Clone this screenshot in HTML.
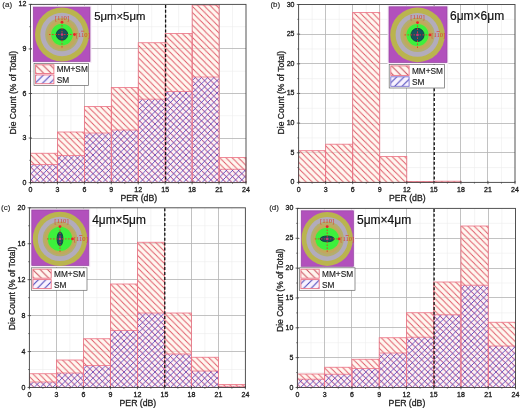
<!DOCTYPE html><html><head><meta charset="utf-8"><title>PER histograms</title><style>html,body{margin:0;padding:0;background:#fff;overflow:hidden}svg{display:block;filter:blur(0.3px)}</style></head><body>
<svg width="520" height="408" viewBox="0 0 520 408">
<defs>
<pattern id="hr" patternUnits="userSpaceOnUse" width="6.2" height="6.2"><path d="M-1,-1 L7.2,7.2 M-7.2,-1 L1,7.2 M5.2,-1 L13.4,7.2" stroke="#de5262" stroke-width="0.9" fill="none"/></pattern>
<pattern id="hb" patternUnits="userSpaceOnUse" width="6.2" height="6.2"><path d="M-1,7.2 L7.2,-1 M-7.2,7.2 L1,-1 M5.2,7.2 L13.4,-1" stroke="#5248c0" stroke-width="0.88" fill="none"/></pattern>
<pattern id="lr" patternUnits="userSpaceOnUse" width="7.4" height="7.4"><path d="M-1,-1 L8.4,8.4 M-8.4,-1 L1,8.4 M6.4,-1 L15.8,8.4" stroke="#c8505e" stroke-width="1.05" fill="none"/></pattern>
<pattern id="lb" patternUnits="userSpaceOnUse" width="7.4" height="7.4"><path d="M-1,8.4 L8.4,-1 M-8.4,8.4 L1,-1 M6.4,8.4 L15.8,-1" stroke="#4a44b8" stroke-width="1.05" fill="none"/></pattern>
<pattern id="hp" patternUnits="userSpaceOnUse" width="6.2" height="6.2"><path d="M-1,-1 L7.2,7.2 M-7.2,-1 L1,7.2 M5.2,-1 L13.4,7.2" stroke="#9a4c9c" stroke-width="0.88" fill="none"/></pattern>
</defs>
<rect width="520" height="408" fill="#fff"/>
<g>
<path d="M43.97,4.4V182.6M70.91,4.4V182.6M97.84,4.4V182.6M124.78,4.4V182.6M151.72,4.4V182.6M178.66,4.4V182.6M205.59,4.4V182.6M232.53,4.4V182.6M30.5,160.32H246M30.5,115.77H246M30.5,71.22H246M30.5,26.68H246" stroke="#ececec" stroke-width="0.6" fill="none"/>
<path d="M57.5,4.4V182.6M84.5,4.4V182.6M111.5,4.4V182.6M138.5,4.4V182.6M165.5,4.4V182.6M192.5,4.4V182.6M219.5,4.4V182.6M30.5,138.5H246M30.5,93.5H246M30.5,48.5H246" stroke="#b2b2b2" stroke-width="0.8" fill="none"/>
<rect x="30.5" y="153.25" width="26.94" height="29.35" fill="#fff0e4" fill-opacity="0.55"/>
<rect x="30.5" y="153.25" width="26.94" height="29.35" fill="url(#hr)"/>
<rect x="57.44" y="132" width="26.94" height="50.6" fill="#fff0e4" fill-opacity="0.55"/>
<rect x="57.44" y="132" width="26.94" height="50.6" fill="url(#hr)"/>
<rect x="84.38" y="106.5" width="26.94" height="76.1" fill="#fff0e4" fill-opacity="0.55"/>
<rect x="84.38" y="106.5" width="26.94" height="76.1" fill="url(#hr)"/>
<rect x="111.31" y="87.5" width="26.94" height="95.1" fill="#fff0e4" fill-opacity="0.55"/>
<rect x="111.31" y="87.5" width="26.94" height="95.1" fill="url(#hr)"/>
<rect x="138.25" y="42.75" width="26.94" height="139.85" fill="#fff0e4" fill-opacity="0.55"/>
<rect x="138.25" y="42.75" width="26.94" height="139.85" fill="url(#hr)"/>
<rect x="165.19" y="33.5" width="26.94" height="149.1" fill="#fff0e4" fill-opacity="0.55"/>
<rect x="165.19" y="33.5" width="26.94" height="149.1" fill="url(#hr)"/>
<rect x="192.12" y="5" width="26.94" height="177.6" fill="#fff0e4" fill-opacity="0.55"/>
<rect x="192.12" y="5" width="26.94" height="177.6" fill="url(#hr)"/>
<rect x="219.06" y="157.5" width="26.94" height="25.1" fill="#fff0e4" fill-opacity="0.55"/>
<rect x="219.06" y="157.5" width="26.94" height="25.1" fill="url(#hr)"/>
<rect x="30.5" y="164.5" width="26.94" height="18.1" fill="#fbeefa" fill-opacity="0.5"/>
<rect x="30.5" y="164.5" width="26.94" height="18.1" fill="url(#hp)"/>
<rect x="30.5" y="164.5" width="26.94" height="18.1" fill="url(#hb)"/>
<rect x="57.44" y="155.5" width="26.94" height="27.1" fill="#fbeefa" fill-opacity="0.5"/>
<rect x="57.44" y="155.5" width="26.94" height="27.1" fill="url(#hp)"/>
<rect x="57.44" y="155.5" width="26.94" height="27.1" fill="url(#hb)"/>
<rect x="84.38" y="133" width="26.94" height="49.6" fill="#fbeefa" fill-opacity="0.5"/>
<rect x="84.38" y="133" width="26.94" height="49.6" fill="url(#hp)"/>
<rect x="84.38" y="133" width="26.94" height="49.6" fill="url(#hb)"/>
<rect x="111.31" y="130" width="26.94" height="52.6" fill="#fbeefa" fill-opacity="0.5"/>
<rect x="111.31" y="130" width="26.94" height="52.6" fill="url(#hp)"/>
<rect x="111.31" y="130" width="26.94" height="52.6" fill="url(#hb)"/>
<rect x="138.25" y="99.2" width="26.94" height="83.4" fill="#fbeefa" fill-opacity="0.5"/>
<rect x="138.25" y="99.2" width="26.94" height="83.4" fill="url(#hp)"/>
<rect x="138.25" y="99.2" width="26.94" height="83.4" fill="url(#hb)"/>
<rect x="165.19" y="91.5" width="26.94" height="91.1" fill="#fbeefa" fill-opacity="0.5"/>
<rect x="165.19" y="91.5" width="26.94" height="91.1" fill="url(#hp)"/>
<rect x="165.19" y="91.5" width="26.94" height="91.1" fill="url(#hb)"/>
<rect x="192.12" y="77" width="26.94" height="105.6" fill="#fbeefa" fill-opacity="0.5"/>
<rect x="192.12" y="77" width="26.94" height="105.6" fill="url(#hp)"/>
<rect x="192.12" y="77" width="26.94" height="105.6" fill="url(#hb)"/>
<rect x="219.06" y="169.3" width="26.94" height="13.3" fill="#fbeefa" fill-opacity="0.5"/>
<rect x="219.06" y="169.3" width="26.94" height="13.3" fill="url(#hp)"/>
<rect x="219.06" y="169.3" width="26.94" height="13.3" fill="url(#hb)"/>
<rect x="30.5" y="153.25" width="26.94" height="29.35" fill="none" stroke="#ec7284" stroke-width="0.8"/>
<rect x="57.44" y="132" width="26.94" height="50.6" fill="none" stroke="#ec7284" stroke-width="0.8"/>
<rect x="84.38" y="106.5" width="26.94" height="76.1" fill="none" stroke="#ec7284" stroke-width="0.8"/>
<rect x="111.31" y="87.5" width="26.94" height="95.1" fill="none" stroke="#ec7284" stroke-width="0.8"/>
<rect x="138.25" y="42.75" width="26.94" height="139.85" fill="none" stroke="#ec7284" stroke-width="0.8"/>
<rect x="165.19" y="33.5" width="26.94" height="149.1" fill="none" stroke="#ec7284" stroke-width="0.8"/>
<rect x="192.12" y="5" width="26.94" height="177.6" fill="none" stroke="#ec7284" stroke-width="0.8"/>
<rect x="219.06" y="157.5" width="26.94" height="25.1" fill="none" stroke="#ec7284" stroke-width="0.8"/>
<path d="M30.5,164.5H57.44" stroke="#ec7284" stroke-width="0.8"/>
<path d="M57.44,155.5H84.38" stroke="#ec7284" stroke-width="0.8"/>
<path d="M84.38,133H111.31" stroke="#ec7284" stroke-width="0.8"/>
<path d="M111.31,130H138.25" stroke="#ec7284" stroke-width="0.8"/>
<path d="M138.25,99.2H165.19" stroke="#ec7284" stroke-width="0.8"/>
<path d="M165.19,91.5H192.12" stroke="#ec7284" stroke-width="0.8"/>
<path d="M192.12,77H219.06" stroke="#ec7284" stroke-width="0.8"/>
<path d="M219.06,169.3H246" stroke="#ec7284" stroke-width="0.8"/>
<path d="M165.59,4.9V182.6" stroke="#111" stroke-width="1.3" stroke-dasharray="3,1.9"/>
<rect x="31.9" y="5.6" width="59.6" height="57.4" fill="#f8ecf8"/>
<rect x="33.4" y="7.1" width="56.6" height="54.4" fill="#b250bc" stroke="#9444a2" stroke-width="0.7"/>
<ellipse cx="62" cy="34.5" rx="27" ry="27" fill="#bab44e"/>
<ellipse cx="62" cy="34.5" rx="21.7" ry="21.7" fill="#b2acbc"/>
<ellipse cx="62" cy="34.5" rx="16.8" ry="16.8" fill="#b4ae6c"/>
<ellipse cx="62" cy="34.5" rx="14.8" ry="14.8" fill="#c4a65e"/>
<ellipse cx="62" cy="34.5" rx="12.5" ry="12.5" fill="#b4b454"/>
<ellipse cx="62" cy="34.5" rx="10.8" ry="10.8" fill="#3cf03c"/>
<ellipse cx="62" cy="34.5" rx="5.7" ry="5.7" fill="#17505e" stroke="#0c3a3a" stroke-width="0.8"/>
<path d="M49,34.5H74.5M62,22V48" stroke="#e03a2a" stroke-width="0.9" stroke-dasharray="1.6,1.4"/>
<circle cx="62" cy="22.2" r="1.4" fill="#e8242a"/>
<circle cx="74.5" cy="34.5" r="1.4" fill="#e8242a"/>
<circle cx="62" cy="34.5" r="1.3" fill="#d03080"/>
<text x="62" y="19.6" text-anchor="middle" font-family='"Liberation Serif", serif' font-size="6.8" fill="#dc4432">[110]</text>
<text x="75.8" y="36.8" font-family='"Liberation Serif", serif' font-size="6.6" fill="#dc4432">[1<tspan text-decoration="overline">1</tspan>0]</text>
<rect x="34" y="63.4" width="54.6" height="22" fill="#fff" stroke="#666" stroke-width="0.7"/>
<rect x="35.6" y="64.8" width="18.3" height="8.75" fill="#fff4ee" stroke="none"/>
<rect x="35.6" y="64.8" width="18.3" height="8.75" fill="url(#lr)" stroke="#ec7284" stroke-width="0.9"/>
<rect x="35.6" y="74.95" width="18.3" height="8.75" fill="#f8f2ff" stroke="none"/>
<rect x="35.6" y="74.95" width="18.3" height="8.75" fill="url(#lb)" stroke="#ec7284" stroke-width="0.9"/>
<g font-family='"Liberation Sans", Arial, sans-serif' font-size="8.3" fill="#1e1e1e" stroke="#1e1e1e" stroke-width="0.15">
<text x="56.7" y="72.45">MM+SM</text>
<text x="56.7" y="82.6">SM</text>
</g>
<text x="94.3" y="19.8" font-family='"Liberation Sans", Arial, sans-serif' font-size="11.3" fill="#111" stroke="#111" stroke-width="0.2">5μm×5μm</text>
<rect x="30.5" y="4.4" width="215.5" height="178.2" fill="none" stroke="#4a4a4a" stroke-width="0.95"/>
<path d="M30.5,181.1V184.4M43.97,182.6V183.7M57.44,181.1V184.4M70.91,182.6V183.7M84.38,181.1V184.4M97.84,182.6V183.7M111.31,181.1V184.4M124.78,182.6V183.7M138.25,181.1V184.4M151.72,182.6V183.7M165.19,181.1V184.4M178.66,182.6V183.7M192.12,181.1V184.4M205.59,182.6V183.7M219.06,181.1V184.4M232.53,182.6V183.7M246,181.1V184.4M28.7,182.6H32M29.4,160.32H30.5M28.7,138.05H32M29.4,115.77H30.5M28.7,93.5H32M29.4,71.22H30.5M28.7,48.95H32M29.4,26.68H30.5M28.7,4.4H32" stroke="#3c3c3c" stroke-width="0.8" fill="none"/>
<g font-family='"Liberation Sans", Arial, sans-serif' font-size="7" fill="#1e1e1e" stroke="#1e1e1e" stroke-width="0.32">
<text x="30.5" y="192.3" text-anchor="middle">0</text>
<text x="57.44" y="192.3" text-anchor="middle">3</text>
<text x="84.38" y="192.3" text-anchor="middle">6</text>
<text x="111.31" y="192.3" text-anchor="middle">9</text>
<text x="138.25" y="192.3" text-anchor="middle">12</text>
<text x="165.19" y="192.3" text-anchor="middle">15</text>
<text x="192.12" y="192.3" text-anchor="middle">18</text>
<text x="219.06" y="192.3" text-anchor="middle">21</text>
<text x="246" y="192.3" text-anchor="middle">24</text>
<text x="26.4" y="184.6" text-anchor="end">0</text>
<text x="26.4" y="140.05" text-anchor="end">3</text>
<text x="26.4" y="95.5" text-anchor="end">6</text>
<text x="26.4" y="50.95" text-anchor="end">9</text>
<text x="26.4" y="6.4" text-anchor="end">12</text>
</g>
<text x="138.75" y="201.1" text-anchor="middle" font-family='"Liberation Sans", Arial, sans-serif' font-size="8.7" fill="#1e1e1e" stroke="#1e1e1e" stroke-width="0.3">PER (dB)</text>
<text transform="translate(13.3,92.7) rotate(-90)" x="0" y="3.1" text-anchor="middle" textLength="83.5" lengthAdjust="spacingAndGlyphs" font-family='"Liberation Sans", Arial, sans-serif' font-size="8.9" fill="#1e1e1e" stroke="#1e1e1e" stroke-width="0.28">Die Count (% of Total)</text>
<text x="2.3" y="6.6" font-family='"Liberation Sans", Arial, sans-serif' font-size="8" fill="#1e1e1e" stroke="#1e1e1e" stroke-width="0.12">(a)</text>
</g>
<g>
<path d="M312.12,4.5V182.4M339.18,4.5V182.4M366.23,4.5V182.4M393.27,4.5V182.4M420.33,4.5V182.4M447.38,4.5V182.4M474.43,4.5V182.4M501.48,4.5V182.4M298.6,167.58H515M298.6,137.93H515M298.6,108.27H515M298.6,78.62H515M298.6,48.97H515M298.6,19.32H515" stroke="#ececec" stroke-width="0.6" fill="none"/>
<path d="M325.5,4.5V182.4M352.5,4.5V182.4M379.5,4.5V182.4M406.5,4.5V182.4M433.5,4.5V182.4M460.5,4.5V182.4M487.5,4.5V182.4M298.6,152.5H515M298.6,123.5H515M298.6,93.5H515M298.6,63.5H515M298.6,34.5H515" stroke="#b2b2b2" stroke-width="0.8" fill="none"/>
<rect x="298.6" y="150.7" width="27.05" height="31.7" fill="#fff0e4" fill-opacity="0.55"/>
<rect x="298.6" y="150.7" width="27.05" height="31.7" fill="url(#hr)"/>
<rect x="325.65" y="144.2" width="27.05" height="38.2" fill="#fff0e4" fill-opacity="0.55"/>
<rect x="325.65" y="144.2" width="27.05" height="38.2" fill="url(#hr)"/>
<rect x="352.7" y="12.5" width="27.05" height="169.9" fill="#fff0e4" fill-opacity="0.55"/>
<rect x="352.7" y="12.5" width="27.05" height="169.9" fill="url(#hr)"/>
<rect x="379.75" y="156.4" width="27.05" height="26" fill="#fff0e4" fill-opacity="0.55"/>
<rect x="379.75" y="156.4" width="27.05" height="26" fill="url(#hr)"/>
<rect x="406.8" y="181.4" width="27.05" height="1" fill="#fff0e4" fill-opacity="0.55"/>
<rect x="406.8" y="181.4" width="27.05" height="1" fill="url(#hr)"/>
<rect x="433.85" y="181.2" width="27.05" height="1.2" fill="#fff0e4" fill-opacity="0.55"/>
<rect x="433.85" y="181.2" width="27.05" height="1.2" fill="url(#hr)"/>
<rect x="298.6" y="150.7" width="27.05" height="31.7" fill="none" stroke="#ec7284" stroke-width="0.8"/>
<rect x="325.65" y="144.2" width="27.05" height="38.2" fill="none" stroke="#ec7284" stroke-width="0.8"/>
<rect x="352.7" y="12.5" width="27.05" height="169.9" fill="none" stroke="#ec7284" stroke-width="0.8"/>
<rect x="379.75" y="156.4" width="27.05" height="26" fill="none" stroke="#ec7284" stroke-width="0.8"/>
<rect x="406.8" y="181.4" width="27.05" height="1" fill="none" stroke="#ec7284" stroke-width="0.8"/>
<rect x="433.85" y="181.2" width="27.05" height="1.2" fill="none" stroke="#ec7284" stroke-width="0.8"/>
<path d="M434.25,5V182.4" stroke="#111" stroke-width="1.3" stroke-dasharray="3,1.9"/>
<rect x="387.5" y="5.3" width="61" height="58.7" fill="#f8ecf8"/>
<rect x="389" y="6.8" width="58" height="55.7" fill="#b250bc" stroke="#9444a2" stroke-width="0.7"/>
<ellipse cx="417.5" cy="34.9" rx="27.3" ry="27.3" fill="#bab44e"/>
<ellipse cx="417.5" cy="34.9" rx="21.9" ry="21.9" fill="#b2acbc"/>
<ellipse cx="417.5" cy="34.9" rx="17.2" ry="17.2" fill="#b4ae6c"/>
<ellipse cx="417.5" cy="34.9" rx="14.6" ry="14.6" fill="#c4a65e"/>
<ellipse cx="417.5" cy="34.9" rx="12.5" ry="12.5" fill="#b4b454"/>
<ellipse cx="417.5" cy="34.9" rx="11" ry="11" fill="#3cf03c"/>
<ellipse cx="417.5" cy="34.9" rx="6.6" ry="6.6" fill="#17505e" stroke="#0c3a3a" stroke-width="0.8"/>
<path d="M404.5,34.9H430M417.5,22.4V48.4" stroke="#e03a2a" stroke-width="0.9" stroke-dasharray="1.6,1.4"/>
<circle cx="417.5" cy="22.6" r="1.4" fill="#e8242a"/>
<circle cx="430" cy="34.9" r="1.4" fill="#e8242a"/>
<circle cx="417.5" cy="34.9" r="1.3" fill="#d03080"/>
<text x="417.5" y="18.8" text-anchor="middle" font-family='"Liberation Serif", serif' font-size="6.8" fill="#dc4432">[110]</text>
<text x="431.3" y="37.2" font-family='"Liberation Serif", serif' font-size="6.6" fill="#dc4432">[1<tspan text-decoration="overline">1</tspan>0]</text>
<rect x="389.2" y="64.5" width="55.3" height="23.5" fill="#fff" stroke="#666" stroke-width="0.7"/>
<rect x="390.8" y="65.9" width="18.3" height="9.5" fill="#fff4ee" stroke="none"/>
<rect x="390.8" y="65.9" width="18.3" height="9.5" fill="url(#lr)" stroke="#ec7284" stroke-width="0.9"/>
<rect x="390.8" y="76.8" width="18.3" height="9.5" fill="#f8f2ff" stroke="none"/>
<rect x="390.8" y="76.8" width="18.3" height="9.5" fill="url(#lb)" stroke="#7a70d0" stroke-width="0.9"/>
<g font-family='"Liberation Sans", Arial, sans-serif' font-size="8.3" fill="#1e1e1e" stroke="#1e1e1e" stroke-width="0.15">
<text x="411.9" y="74.3">MM+SM</text>
<text x="411.9" y="85.2">SM</text>
</g>
<text x="450" y="20.3" font-family='"Liberation Sans", Arial, sans-serif' font-size="12.0" fill="#111" stroke="#111" stroke-width="0.2">6μm×6μm</text>
<rect x="298.6" y="4.5" width="216.4" height="177.9" fill="none" stroke="#4a4a4a" stroke-width="0.95"/>
<path d="M298.6,180.9V184.2M312.12,182.4V183.5M325.65,180.9V184.2M339.18,182.4V183.5M352.7,180.9V184.2M366.23,182.4V183.5M379.75,180.9V184.2M393.27,182.4V183.5M406.8,180.9V184.2M420.33,182.4V183.5M433.85,180.9V184.2M447.38,182.4V183.5M460.9,180.9V184.2M474.43,182.4V183.5M487.95,180.9V184.2M501.48,182.4V183.5M515,180.9V184.2M296.8,182.4H300.1M297.5,167.58H298.6M296.8,152.75H300.1M297.5,137.93H298.6M296.8,123.1H300.1M297.5,108.27H298.6M296.8,93.45H300.1M297.5,78.62H298.6M296.8,63.8H300.1M297.5,48.97H298.6M296.8,34.15H300.1M297.5,19.32H298.6M296.8,4.5H300.1" stroke="#3c3c3c" stroke-width="0.8" fill="none"/>
<g font-family='"Liberation Sans", Arial, sans-serif' font-size="7" fill="#1e1e1e" stroke="#1e1e1e" stroke-width="0.32">
<text x="298.6" y="192.1" text-anchor="middle">0</text>
<text x="325.65" y="192.1" text-anchor="middle">3</text>
<text x="352.7" y="192.1" text-anchor="middle">6</text>
<text x="379.75" y="192.1" text-anchor="middle">9</text>
<text x="406.8" y="192.1" text-anchor="middle">12</text>
<text x="433.85" y="192.1" text-anchor="middle">15</text>
<text x="460.9" y="192.1" text-anchor="middle">18</text>
<text x="487.95" y="192.1" text-anchor="middle">21</text>
<text x="515" y="192.1" text-anchor="middle">24</text>
<text x="294.5" y="184.4" text-anchor="end">0</text>
<text x="294.5" y="154.75" text-anchor="end">5</text>
<text x="294.5" y="125.1" text-anchor="end">10</text>
<text x="294.5" y="95.45" text-anchor="end">15</text>
<text x="294.5" y="65.8" text-anchor="end">20</text>
<text x="294.5" y="36.15" text-anchor="end">25</text>
<text x="294.5" y="6.5" text-anchor="end">30</text>
</g>
<text x="407.3" y="200.9" text-anchor="middle" font-family='"Liberation Sans", Arial, sans-serif' font-size="8.7" fill="#1e1e1e" stroke="#1e1e1e" stroke-width="0.3">PER (dB)</text>
<text transform="translate(281.3,92.7) rotate(-90)" x="0" y="3.1" text-anchor="middle" textLength="83.5" lengthAdjust="spacingAndGlyphs" font-family='"Liberation Sans", Arial, sans-serif' font-size="8.9" fill="#1e1e1e" stroke="#1e1e1e" stroke-width="0.28">Die Count (% of Total)</text>
<text x="270.4" y="6.6" font-family='"Liberation Sans", Arial, sans-serif' font-size="8" fill="#1e1e1e" stroke="#1e1e1e" stroke-width="0.12">(b)</text>
</g>
<g>
<path d="M42.9,207.8V387.5M69.9,207.8V387.5M96.9,207.8V387.5M123.9,207.8V387.5M150.9,207.8V387.5M177.9,207.8V387.5M204.9,207.8V387.5M231.9,207.8V387.5M29.4,369.53H245.4M29.4,333.59H245.4M29.4,297.65H245.4M29.4,261.71H245.4M29.4,225.77H245.4" stroke="#ececec" stroke-width="0.6" fill="none"/>
<path d="M56.5,207.8V387.5M83.5,207.8V387.5M110.5,207.8V387.5M137.5,207.8V387.5M164.5,207.8V387.5M191.5,207.8V387.5M218.5,207.8V387.5M29.4,351.5H245.4M29.4,315.5H245.4M29.4,279.5H245.4M29.4,243.5H245.4" stroke="#b2b2b2" stroke-width="0.8" fill="none"/>
<rect x="29.4" y="373.75" width="27" height="13.75" fill="#fff0e4" fill-opacity="0.55"/>
<rect x="29.4" y="373.75" width="27" height="13.75" fill="url(#hr)"/>
<rect x="56.4" y="360" width="27" height="27.5" fill="#fff0e4" fill-opacity="0.55"/>
<rect x="56.4" y="360" width="27" height="27.5" fill="url(#hr)"/>
<rect x="83.4" y="338.75" width="27" height="48.75" fill="#fff0e4" fill-opacity="0.55"/>
<rect x="83.4" y="338.75" width="27" height="48.75" fill="url(#hr)"/>
<rect x="110.4" y="284" width="27" height="103.5" fill="#fff0e4" fill-opacity="0.55"/>
<rect x="110.4" y="284" width="27" height="103.5" fill="url(#hr)"/>
<rect x="137.4" y="242.25" width="27" height="145.25" fill="#fff0e4" fill-opacity="0.55"/>
<rect x="137.4" y="242.25" width="27" height="145.25" fill="url(#hr)"/>
<rect x="164.4" y="313" width="27" height="74.5" fill="#fff0e4" fill-opacity="0.55"/>
<rect x="164.4" y="313" width="27" height="74.5" fill="url(#hr)"/>
<rect x="191.4" y="357.25" width="27" height="30.25" fill="#fff0e4" fill-opacity="0.55"/>
<rect x="191.4" y="357.25" width="27" height="30.25" fill="url(#hr)"/>
<rect x="218.4" y="384.5" width="27" height="3" fill="#fff0e4" fill-opacity="0.55"/>
<rect x="218.4" y="384.5" width="27" height="3" fill="url(#hr)"/>
<rect x="29.4" y="382" width="27" height="5.5" fill="#fbeefa" fill-opacity="0.5"/>
<rect x="29.4" y="382" width="27" height="5.5" fill="url(#hp)"/>
<rect x="29.4" y="382" width="27" height="5.5" fill="url(#hb)"/>
<rect x="56.4" y="373" width="27" height="14.5" fill="#fbeefa" fill-opacity="0.5"/>
<rect x="56.4" y="373" width="27" height="14.5" fill="url(#hp)"/>
<rect x="56.4" y="373" width="27" height="14.5" fill="url(#hb)"/>
<rect x="83.4" y="365.5" width="27" height="22" fill="#fbeefa" fill-opacity="0.5"/>
<rect x="83.4" y="365.5" width="27" height="22" fill="url(#hp)"/>
<rect x="83.4" y="365.5" width="27" height="22" fill="url(#hb)"/>
<rect x="110.4" y="330.5" width="27" height="57" fill="#fbeefa" fill-opacity="0.5"/>
<rect x="110.4" y="330.5" width="27" height="57" fill="url(#hp)"/>
<rect x="110.4" y="330.5" width="27" height="57" fill="url(#hb)"/>
<rect x="137.4" y="313" width="27" height="74.5" fill="#fbeefa" fill-opacity="0.5"/>
<rect x="137.4" y="313" width="27" height="74.5" fill="url(#hp)"/>
<rect x="137.4" y="313" width="27" height="74.5" fill="url(#hb)"/>
<rect x="164.4" y="354" width="27" height="33.5" fill="#fbeefa" fill-opacity="0.5"/>
<rect x="164.4" y="354" width="27" height="33.5" fill="url(#hp)"/>
<rect x="164.4" y="354" width="27" height="33.5" fill="url(#hb)"/>
<rect x="191.4" y="371" width="27" height="16.5" fill="#fbeefa" fill-opacity="0.5"/>
<rect x="191.4" y="371" width="27" height="16.5" fill="url(#hp)"/>
<rect x="191.4" y="371" width="27" height="16.5" fill="url(#hb)"/>
<rect x="218.4" y="386.3" width="27" height="1.2" fill="#fbeefa" fill-opacity="0.5"/>
<rect x="218.4" y="386.3" width="27" height="1.2" fill="url(#hp)"/>
<rect x="218.4" y="386.3" width="27" height="1.2" fill="url(#hb)"/>
<rect x="29.4" y="373.75" width="27" height="13.75" fill="none" stroke="#ec7284" stroke-width="0.8"/>
<rect x="56.4" y="360" width="27" height="27.5" fill="none" stroke="#ec7284" stroke-width="0.8"/>
<rect x="83.4" y="338.75" width="27" height="48.75" fill="none" stroke="#ec7284" stroke-width="0.8"/>
<rect x="110.4" y="284" width="27" height="103.5" fill="none" stroke="#ec7284" stroke-width="0.8"/>
<rect x="137.4" y="242.25" width="27" height="145.25" fill="none" stroke="#ec7284" stroke-width="0.8"/>
<rect x="164.4" y="313" width="27" height="74.5" fill="none" stroke="#ec7284" stroke-width="0.8"/>
<rect x="191.4" y="357.25" width="27" height="30.25" fill="none" stroke="#ec7284" stroke-width="0.8"/>
<rect x="218.4" y="384.5" width="27" height="3" fill="none" stroke="#ec7284" stroke-width="0.8"/>
<path d="M29.4,382H56.4" stroke="#ec7284" stroke-width="0.8"/>
<path d="M56.4,373H83.4" stroke="#ec7284" stroke-width="0.8"/>
<path d="M83.4,365.5H110.4" stroke="#ec7284" stroke-width="0.8"/>
<path d="M110.4,330.5H137.4" stroke="#ec7284" stroke-width="0.8"/>
<path d="M137.4,313H164.4" stroke="#ec7284" stroke-width="0.8"/>
<path d="M164.4,354H191.4" stroke="#ec7284" stroke-width="0.8"/>
<path d="M191.4,371H218.4" stroke="#ec7284" stroke-width="0.8"/>
<path d="M218.4,386.3H245.4" stroke="#ec7284" stroke-width="0.8"/>
<path d="M164.8,208.3V387.5" stroke="#111" stroke-width="1.3" stroke-dasharray="3,1.9"/>
<rect x="30.3" y="208.5" width="60" height="58.5" fill="#f8ecf8"/>
<rect x="31.8" y="210" width="57" height="55.5" fill="#b250bc" stroke="#9444a2" stroke-width="0.7"/>
<ellipse cx="60" cy="238.9" rx="27.2" ry="27.2" fill="#bab44e"/>
<ellipse cx="60" cy="238.9" rx="22.2" ry="22.2" fill="#b2acbc"/>
<ellipse cx="60" cy="238.9" rx="17.3" ry="17.3" fill="#b4ae6c"/>
<ellipse cx="60" cy="238.9" rx="15.5" ry="15.5" fill="#c4a65e"/>
<ellipse cx="60" cy="238.9" rx="13.55" ry="13.55" fill="#b4b454"/>
<ellipse cx="60" cy="238.9" rx="12.2" ry="12.2" fill="#3cf03c"/>
<ellipse cx="60" cy="238.9" rx="2.9" ry="7" fill="#17505e" stroke="#0c3a3a" stroke-width="0.8"/>
<path d="M47,238.9H72.5M60,226.4V252.4" stroke="#e03a2a" stroke-width="0.9" stroke-dasharray="1.6,1.4"/>
<circle cx="60" cy="226.6" r="1.4" fill="#e8242a"/>
<circle cx="72.5" cy="238.9" r="1.4" fill="#e8242a"/>
<circle cx="60" cy="238.9" r="1.3" fill="#d03080"/>
<text x="61.5" y="222.8" text-anchor="middle" font-family='"Liberation Serif", serif' font-size="6.8" fill="#dc4432">[110]</text>
<text x="73.8" y="241.2" font-family='"Liberation Serif", serif' font-size="6.6" fill="#dc4432">[1<tspan text-decoration="overline">1</tspan>0]</text>
<rect x="31.3" y="267.8" width="55.7" height="22.5" fill="#fff" stroke="#666" stroke-width="0.7"/>
<rect x="32.9" y="269.2" width="18.3" height="9" fill="#fff4ee" stroke="none"/>
<rect x="32.9" y="269.2" width="18.3" height="9" fill="url(#lr)" stroke="#ec7284" stroke-width="0.9"/>
<rect x="32.9" y="279.6" width="18.3" height="9" fill="#f8f2ff" stroke="none"/>
<rect x="32.9" y="279.6" width="18.3" height="9" fill="url(#lb)" stroke="#ec7284" stroke-width="0.9"/>
<g font-family='"Liberation Sans", Arial, sans-serif' font-size="8.3" fill="#1e1e1e" stroke="#1e1e1e" stroke-width="0.15">
<text x="54" y="277.1">MM+SM</text>
<text x="54" y="287.5">SM</text>
</g>
<text x="92.2" y="224.4" font-family='"Liberation Sans", Arial, sans-serif' font-size="11.9" fill="#111" stroke="#111" stroke-width="0.2">4μm×5μm</text>
<rect x="29.4" y="207.8" width="216" height="179.7" fill="none" stroke="#4a4a4a" stroke-width="0.95"/>
<path d="M29.4,386V389.3M42.9,387.5V388.6M56.4,386V389.3M69.9,387.5V388.6M83.4,386V389.3M96.9,387.5V388.6M110.4,386V389.3M123.9,387.5V388.6M137.4,386V389.3M150.9,387.5V388.6M164.4,386V389.3M177.9,387.5V388.6M191.4,386V389.3M204.9,387.5V388.6M218.4,386V389.3M231.9,387.5V388.6M245.4,386V389.3M27.6,387.5H30.9M28.3,369.53H29.4M27.6,351.56H30.9M28.3,333.59H29.4M27.6,315.62H30.9M28.3,297.65H29.4M27.6,279.68H30.9M28.3,261.71H29.4M27.6,243.74H30.9M28.3,225.77H29.4M27.6,207.8H30.9" stroke="#3c3c3c" stroke-width="0.8" fill="none"/>
<g font-family='"Liberation Sans", Arial, sans-serif' font-size="7" fill="#1e1e1e" stroke="#1e1e1e" stroke-width="0.32">
<text x="29.4" y="397.2" text-anchor="middle">0</text>
<text x="56.4" y="397.2" text-anchor="middle">3</text>
<text x="83.4" y="397.2" text-anchor="middle">6</text>
<text x="110.4" y="397.2" text-anchor="middle">9</text>
<text x="137.4" y="397.2" text-anchor="middle">12</text>
<text x="164.4" y="397.2" text-anchor="middle">15</text>
<text x="191.4" y="397.2" text-anchor="middle">18</text>
<text x="218.4" y="397.2" text-anchor="middle">21</text>
<text x="245.4" y="397.2" text-anchor="middle">24</text>
<text x="25.3" y="389.5" text-anchor="end">0</text>
<text x="25.3" y="353.56" text-anchor="end">4</text>
<text x="25.3" y="317.62" text-anchor="end">8</text>
<text x="25.3" y="281.68" text-anchor="end">12</text>
<text x="25.3" y="245.74" text-anchor="end">16</text>
<text x="25.3" y="209.8" text-anchor="end">20</text>
</g>
<text x="137.9" y="406" text-anchor="middle" font-family='"Liberation Sans", Arial, sans-serif' font-size="8.7" fill="#1e1e1e" stroke="#1e1e1e" stroke-width="0.3">PER (dB)</text>
<text transform="translate(11.6,288.4) rotate(-90)" x="0" y="3.1" text-anchor="middle" textLength="83.5" lengthAdjust="spacingAndGlyphs" font-family='"Liberation Sans", Arial, sans-serif' font-size="8.9" fill="#1e1e1e" stroke="#1e1e1e" stroke-width="0.28">Die Count (% of Total)</text>
<text x="1" y="210.4" font-family='"Liberation Sans", Arial, sans-serif' font-size="8" fill="#1e1e1e" stroke="#1e1e1e" stroke-width="0.12">(c)</text>
</g>
<g>
<path d="M311.03,208.4V387.5M338.29,208.4V387.5M365.56,208.4V387.5M392.82,208.4V387.5M420.08,208.4V387.5M447.34,208.4V387.5M474.61,208.4V387.5M501.87,208.4V387.5M297.4,372.57H515.5M297.4,342.73H515.5M297.4,312.88H515.5M297.4,283.02H515.5M297.4,253.18H515.5M297.4,223.33H515.5" stroke="#ececec" stroke-width="0.6" fill="none"/>
<path d="M324.5,208.4V387.5M351.5,208.4V387.5M379.5,208.4V387.5M406.5,208.4V387.5M433.5,208.4V387.5M460.5,208.4V387.5M488.5,208.4V387.5M297.4,357.5H515.5M297.4,327.5H515.5M297.4,297.5H515.5M297.4,268.5H515.5M297.4,238.5H515.5" stroke="#b2b2b2" stroke-width="0.8" fill="none"/>
<rect x="297.4" y="374" width="27.26" height="13.5" fill="#fff0e4" fill-opacity="0.55"/>
<rect x="297.4" y="374" width="27.26" height="13.5" fill="url(#hr)"/>
<rect x="324.66" y="367.25" width="27.26" height="20.25" fill="#fff0e4" fill-opacity="0.55"/>
<rect x="324.66" y="367.25" width="27.26" height="20.25" fill="url(#hr)"/>
<rect x="351.92" y="359.25" width="27.26" height="28.25" fill="#fff0e4" fill-opacity="0.55"/>
<rect x="351.92" y="359.25" width="27.26" height="28.25" fill="url(#hr)"/>
<rect x="379.19" y="337.75" width="27.26" height="49.75" fill="#fff0e4" fill-opacity="0.55"/>
<rect x="379.19" y="337.75" width="27.26" height="49.75" fill="url(#hr)"/>
<rect x="406.45" y="312.75" width="27.26" height="74.75" fill="#fff0e4" fill-opacity="0.55"/>
<rect x="406.45" y="312.75" width="27.26" height="74.75" fill="url(#hr)"/>
<rect x="433.71" y="282" width="27.26" height="105.5" fill="#fff0e4" fill-opacity="0.55"/>
<rect x="433.71" y="282" width="27.26" height="105.5" fill="url(#hr)"/>
<rect x="460.98" y="226" width="27.26" height="161.5" fill="#fff0e4" fill-opacity="0.55"/>
<rect x="460.98" y="226" width="27.26" height="161.5" fill="url(#hr)"/>
<rect x="488.24" y="322.25" width="27.26" height="65.25" fill="#fff0e4" fill-opacity="0.55"/>
<rect x="488.24" y="322.25" width="27.26" height="65.25" fill="url(#hr)"/>
<rect x="297.4" y="379.25" width="27.26" height="8.25" fill="#fbeefa" fill-opacity="0.5"/>
<rect x="297.4" y="379.25" width="27.26" height="8.25" fill="url(#hp)"/>
<rect x="297.4" y="379.25" width="27.26" height="8.25" fill="url(#hb)"/>
<rect x="324.66" y="374.25" width="27.26" height="13.25" fill="#fbeefa" fill-opacity="0.5"/>
<rect x="324.66" y="374.25" width="27.26" height="13.25" fill="url(#hp)"/>
<rect x="324.66" y="374.25" width="27.26" height="13.25" fill="url(#hb)"/>
<rect x="351.92" y="368.5" width="27.26" height="19" fill="#fbeefa" fill-opacity="0.5"/>
<rect x="351.92" y="368.5" width="27.26" height="19" fill="url(#hp)"/>
<rect x="351.92" y="368.5" width="27.26" height="19" fill="url(#hb)"/>
<rect x="379.19" y="353" width="27.26" height="34.5" fill="#fbeefa" fill-opacity="0.5"/>
<rect x="379.19" y="353" width="27.26" height="34.5" fill="url(#hp)"/>
<rect x="379.19" y="353" width="27.26" height="34.5" fill="url(#hb)"/>
<rect x="406.45" y="337.25" width="27.26" height="50.25" fill="#fbeefa" fill-opacity="0.5"/>
<rect x="406.45" y="337.25" width="27.26" height="50.25" fill="url(#hp)"/>
<rect x="406.45" y="337.25" width="27.26" height="50.25" fill="url(#hb)"/>
<rect x="433.71" y="314.75" width="27.26" height="72.75" fill="#fbeefa" fill-opacity="0.5"/>
<rect x="433.71" y="314.75" width="27.26" height="72.75" fill="url(#hp)"/>
<rect x="433.71" y="314.75" width="27.26" height="72.75" fill="url(#hb)"/>
<rect x="460.98" y="285.25" width="27.26" height="102.25" fill="#fbeefa" fill-opacity="0.5"/>
<rect x="460.98" y="285.25" width="27.26" height="102.25" fill="url(#hp)"/>
<rect x="460.98" y="285.25" width="27.26" height="102.25" fill="url(#hb)"/>
<rect x="488.24" y="346" width="27.26" height="41.5" fill="#fbeefa" fill-opacity="0.5"/>
<rect x="488.24" y="346" width="27.26" height="41.5" fill="url(#hp)"/>
<rect x="488.24" y="346" width="27.26" height="41.5" fill="url(#hb)"/>
<rect x="297.4" y="374" width="27.26" height="13.5" fill="none" stroke="#ec7284" stroke-width="0.8"/>
<rect x="324.66" y="367.25" width="27.26" height="20.25" fill="none" stroke="#ec7284" stroke-width="0.8"/>
<rect x="351.92" y="359.25" width="27.26" height="28.25" fill="none" stroke="#ec7284" stroke-width="0.8"/>
<rect x="379.19" y="337.75" width="27.26" height="49.75" fill="none" stroke="#ec7284" stroke-width="0.8"/>
<rect x="406.45" y="312.75" width="27.26" height="74.75" fill="none" stroke="#ec7284" stroke-width="0.8"/>
<rect x="433.71" y="282" width="27.26" height="105.5" fill="none" stroke="#ec7284" stroke-width="0.8"/>
<rect x="460.98" y="226" width="27.26" height="161.5" fill="none" stroke="#ec7284" stroke-width="0.8"/>
<rect x="488.24" y="322.25" width="27.26" height="65.25" fill="none" stroke="#ec7284" stroke-width="0.8"/>
<path d="M297.4,379.25H324.66" stroke="#ec7284" stroke-width="0.8"/>
<path d="M324.66,374.25H351.92" stroke="#ec7284" stroke-width="0.8"/>
<path d="M351.92,368.5H379.19" stroke="#ec7284" stroke-width="0.8"/>
<path d="M379.19,353H406.45" stroke="#ec7284" stroke-width="0.8"/>
<path d="M406.45,337.25H433.71" stroke="#ec7284" stroke-width="0.8"/>
<path d="M433.71,314.75H460.98" stroke="#ec7284" stroke-width="0.8"/>
<path d="M460.98,285.25H488.24" stroke="#ec7284" stroke-width="0.8"/>
<path d="M488.24,346H515.5" stroke="#ec7284" stroke-width="0.8"/>
<path d="M434.11,208.9V387.5" stroke="#111" stroke-width="1.3" stroke-dasharray="3,1.9"/>
<rect x="299.8" y="209.3" width="55.1" height="58.5" fill="#f8ecf8"/>
<rect x="301.3" y="210.8" width="52.1" height="55.5" fill="#b250bc" stroke="#9444a2" stroke-width="0.7"/>
<ellipse cx="327.2" cy="238.9" rx="25.65" ry="27" fill="#bab44e"/>
<ellipse cx="327.2" cy="238.9" rx="20.9" ry="22" fill="#b2acbc"/>
<ellipse cx="327.2" cy="238.9" rx="16.62" ry="17.5" fill="#b4ae6c"/>
<ellipse cx="327.2" cy="238.9" rx="14.06" ry="14.8" fill="#c4a65e"/>
<ellipse cx="327.2" cy="238.9" rx="12.21" ry="12.85" fill="#b4b454"/>
<ellipse cx="327.2" cy="238.9" rx="11.8" ry="11.2" fill="#3cf03c"/>
<ellipse cx="327.2" cy="238.9" rx="7" ry="2.9" fill="#17505e" stroke="#0c3a3a" stroke-width="0.8"/>
<path d="M314.85,238.9H339.07M327.2,226.4V252.4" stroke="#e03a2a" stroke-width="0.9" stroke-dasharray="1.6,1.4"/>
<circle cx="327.2" cy="226.6" r="1.4" fill="#e8242a"/>
<circle cx="339.07" cy="238.9" r="1.4" fill="#e8242a"/>
<circle cx="327.2" cy="238.9" r="1.3" fill="#d03080"/>
<text x="327.2" y="222.8" text-anchor="middle" font-family='"Liberation Serif", serif' font-size="6.8" fill="#dc4432">[110]</text>
<text x="340.31" y="241.2" font-family='"Liberation Serif", serif' font-size="6.6" fill="#dc4432">[1<tspan text-decoration="overline">1</tspan>0]</text>
<rect x="299.3" y="267.8" width="55.7" height="22.5" fill="#fff" stroke="#666" stroke-width="0.7"/>
<rect x="300.9" y="269.2" width="18.3" height="9" fill="#fff4ee" stroke="none"/>
<rect x="300.9" y="269.2" width="18.3" height="9" fill="url(#lr)" stroke="#ec7284" stroke-width="0.9"/>
<rect x="300.9" y="279.6" width="18.3" height="9" fill="#f8f2ff" stroke="none"/>
<rect x="300.9" y="279.6" width="18.3" height="9" fill="url(#lb)" stroke="#ec7284" stroke-width="0.9"/>
<g font-family='"Liberation Sans", Arial, sans-serif' font-size="8.3" fill="#1e1e1e" stroke="#1e1e1e" stroke-width="0.15">
<text x="322" y="277.1">MM+SM</text>
<text x="322" y="287.5">SM</text>
</g>
<text x="357" y="224.3" font-family='"Liberation Sans", Arial, sans-serif' font-size="12.0" fill="#111" stroke="#111" stroke-width="0.2">5μm×4μm</text>
<rect x="297.4" y="208.4" width="218.1" height="179.1" fill="none" stroke="#4a4a4a" stroke-width="0.95"/>
<path d="M297.4,386V389.3M311.03,387.5V388.6M324.66,386V389.3M338.29,387.5V388.6M351.92,386V389.3M365.56,387.5V388.6M379.19,386V389.3M392.82,387.5V388.6M406.45,386V389.3M420.08,387.5V388.6M433.71,386V389.3M447.34,387.5V388.6M460.98,386V389.3M474.61,387.5V388.6M488.24,386V389.3M501.87,387.5V388.6M515.5,386V389.3M295.6,387.5H298.9M296.3,372.57H297.4M295.6,357.65H298.9M296.3,342.73H297.4M295.6,327.8H298.9M296.3,312.88H297.4M295.6,297.95H298.9M296.3,283.02H297.4M295.6,268.1H298.9M296.3,253.18H297.4M295.6,238.25H298.9M296.3,223.33H297.4M295.6,208.4H298.9" stroke="#3c3c3c" stroke-width="0.8" fill="none"/>
<g font-family='"Liberation Sans", Arial, sans-serif' font-size="7" fill="#1e1e1e" stroke="#1e1e1e" stroke-width="0.32">
<text x="297.4" y="397.2" text-anchor="middle">0</text>
<text x="324.66" y="397.2" text-anchor="middle">3</text>
<text x="351.92" y="397.2" text-anchor="middle">6</text>
<text x="379.19" y="397.2" text-anchor="middle">9</text>
<text x="406.45" y="397.2" text-anchor="middle">12</text>
<text x="433.71" y="397.2" text-anchor="middle">15</text>
<text x="460.98" y="397.2" text-anchor="middle">18</text>
<text x="488.24" y="397.2" text-anchor="middle">21</text>
<text x="515.5" y="397.2" text-anchor="middle">24</text>
<text x="293.3" y="389.5" text-anchor="end">0</text>
<text x="293.3" y="359.65" text-anchor="end">5</text>
<text x="293.3" y="329.8" text-anchor="end">10</text>
<text x="293.3" y="299.95" text-anchor="end">15</text>
<text x="293.3" y="270.1" text-anchor="end">20</text>
<text x="293.3" y="240.25" text-anchor="end">25</text>
<text x="293.3" y="210.4" text-anchor="end">30</text>
</g>
<text x="406.95" y="406" text-anchor="middle" font-family='"Liberation Sans", Arial, sans-serif' font-size="8.7" fill="#1e1e1e" stroke="#1e1e1e" stroke-width="0.3">PER (dB)</text>
<text transform="translate(280,290.3) rotate(-90)" x="0" y="3.1" text-anchor="middle" textLength="83.5" lengthAdjust="spacingAndGlyphs" font-family='"Liberation Sans", Arial, sans-serif' font-size="8.9" fill="#1e1e1e" stroke="#1e1e1e" stroke-width="0.28">Die Count (% of Total)</text>
<text x="269.2" y="210.4" font-family='"Liberation Sans", Arial, sans-serif' font-size="8" fill="#1e1e1e" stroke="#1e1e1e" stroke-width="0.12">(d)</text>
</g>
</svg></body></html>
